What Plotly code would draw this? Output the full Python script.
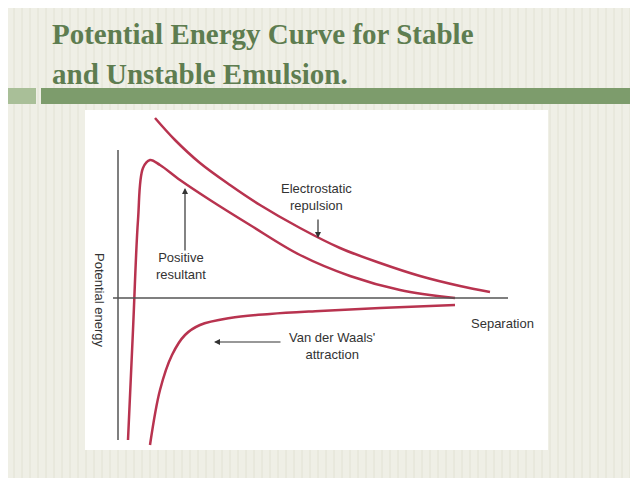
import plotly.graph_objects as go

rep_x = [155,175,200,230,260,300,340,380,420,460,490]
rep_y = [118,140,163,185,205,228,248,263,276,286,292]
res_x = [128,133,138,143,150,160,180,210,250,300,350,400,455]
res_y = [440,330,220,168,160,165,180,200,225,255,276,290,298]
vdw_x = [150,160,172,185,200,230,270,320,380,455]
vdw_y = [445,390,355,335,325,318,314,311,308,305]

red = "#b8334f"
fig = go.Figure()
for xs, ys in [(rep_x, rep_y), (res_x, res_y), (vdw_x, vdw_y)]:
    fig.add_trace(go.Scatter(x=xs, y=ys, mode="lines", line=dict(color=red, width=2.5, shape="spline"), hoverinfo="skip"))

shapes = []
for i in range(-10, 660, 8):
    shapes.append(dict(type="line", x0=i, x1=i, y0=-10, y1=490, line=dict(color="#e2e2d4", width=1), layer="below"))
shapes += [
    dict(type="rect", x0=-10, x1=36, y0=88, y1=104, fillcolor="#a9bf98", line_width=0, layer="below"),
    dict(type="rect", x0=41, x1=660, y0=88, y1=104, fillcolor="#7d9c6c", line_width=0, layer="below"),
    dict(type="rect", x0=85, x1=548, y0=110, y1=450, fillcolor="white", line_width=0, layer="below"),
    dict(type="line", x0=118, x1=118, y0=150, y1=440, line=dict(color="#555", width=1.5)),
    dict(type="line", x0=113, x1=508, y0=298, y1=298, line=dict(color="#555", width=1.5)),
]

f = dict(family="Liberation Sans", size=13, color="#333")
tf = dict(family="Liberation Serif", size=29, color="#5e7d50")
ann = [
    dict(x=50, y=34, text="<b>Potential Energy Curve for Stable</b>", xanchor="left", showarrow=False, font=tf),
    dict(x=50, y=74, text="<b>and Unstable Emulsion.</b>", xanchor="left", showarrow=False, font=tf),
    dict(x=316, y=197, text="Electrostatic<br>repulsion", showarrow=False, font=f),
    dict(x=181, y=266, text="Positive<br>resultant", showarrow=False, font=f),
    dict(x=332, y=346, text="Van der Waals'<br>attraction", showarrow=False, font=f),
    dict(x=502, y=323, text="Separation", showarrow=False, font=f),
    dict(x=100, y=300, text="Potential energy", textangle=90, showarrow=False, font=f),
    dict(x=318, y=238, ax=318, ay=218, xref="x", yref="y", axref="x", ayref="y", text="", showarrow=True, arrowhead=2, arrowsize=1, arrowwidth=1.2, arrowcolor="#333"),
    dict(x=185, y=188, ax=185, ay=252, xref="x", yref="y", axref="x", ayref="y", text="", showarrow=True, arrowhead=2, arrowsize=1, arrowwidth=1.2, arrowcolor="#333"),
    dict(x=214, y=342, ax=282, ay=342, xref="x", yref="y", axref="x", ayref="y", text="", showarrow=True, arrowhead=2, arrowsize=1, arrowwidth=1.2, arrowcolor="#333"),
]
fig.update_layout(width=638, height=478, margin=dict(l=0, r=0, t=0, b=0), showlegend=False,
                  paper_bgcolor="#efefe6", plot_bgcolor="rgba(0,0,0,0)",
                  xaxis=dict(range=[8, 646], visible=False, fixedrange=True),
                  yaxis=dict(range=[486, 8], visible=False, fixedrange=True),
                  shapes=shapes, annotations=ann)
fig.write_html("out.html")
